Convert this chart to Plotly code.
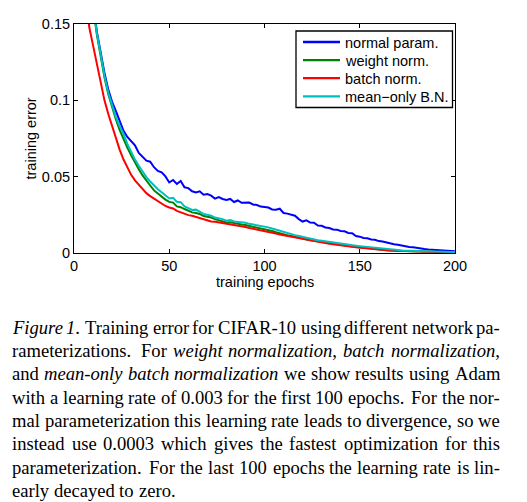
import plotly.graph_objects as go

# ---------------- data ----------------
epochs = list(range(0, 201, 2))

normal_param = [
    0.50, 0.36, 0.28, 0.225, 0.19, 0.164, 0.145, 0.131, 0.118, 0.107,
    0.099, 0.093, 0.086, 0.0800, 0.0760, 0.0730, 0.0705, 0.0655, 0.0630, 0.0605,
    0.0598, 0.0562, 0.0538, 0.0528, 0.0502, 0.0462, 0.0478, 0.0452, 0.0472, 0.0430,
    0.0425, 0.0404, 0.0396, 0.0404, 0.0382, 0.0386, 0.0376, 0.0356, 0.0366, 0.0354,
    0.0348, 0.0354, 0.0334, 0.0344, 0.0329, 0.0328, 0.0330, 0.0318, 0.0314, 0.0304,
    0.0301, 0.0298, 0.0285, 0.0284, 0.0290, 0.0262, 0.0258, 0.0252, 0.0244, 0.0222,
    0.0206, 0.0214, 0.0199, 0.0198, 0.0180, 0.0178, 0.0167, 0.0164, 0.0154, 0.0153,
    0.0144, 0.0142, 0.0131, 0.0130, 0.0111, 0.0107, 0.0098, 0.0096, 0.0088, 0.0087,
    0.0078, 0.0075, 0.0068, 0.0065, 0.0058, 0.0054, 0.0048, 0.0046, 0.0040, 0.0037,
    0.0032, 0.0029, 0.0026, 0.0023, 0.0021, 0.0019, 0.0017, 0.0016, 0.0014, 0.0013,
    0.0012,
]

weight_norm = [
    0.50, 0.355, 0.275, 0.222, 0.188, 0.162, 0.143, 0.128, 0.115, 0.104,
    0.0955, 0.0875, 0.0805, 0.0745, 0.0690, 0.0640, 0.0590, 0.0548, 0.0508, 0.0472,
    0.0442, 0.0410, 0.0388, 0.0368, 0.0350, 0.0335, 0.0330, 0.0305, 0.0300, 0.0288,
    0.0278, 0.0266, 0.0262, 0.0256, 0.0242, 0.0238, 0.0232, 0.0222, 0.0216, 0.0210,
    0.0200, 0.0201, 0.0195, 0.0190, 0.0187, 0.0183, 0.0178, 0.0173, 0.0168, 0.0164,
    0.0159, 0.0151, 0.0144, 0.0136, 0.0128, 0.0123, 0.0116, 0.0111, 0.0105, 0.0100,
    0.0095, 0.0088, 0.0084, 0.0080, 0.0076, 0.0072, 0.0068, 0.0064, 0.0060, 0.0056,
    0.0053, 0.0049, 0.0046, 0.0043, 0.0040, 0.0037, 0.0034, 0.0031, 0.0028, 0.0026,
    0.0023, 0.0021, 0.0019, 0.0017, 0.0015, 0.0014, 0.0012, 0.0011, 0.0010, 0.0009,
    0.0008, 0.0007, 0.0006, 0.0006, 0.0005, 0.0005, 0.0005, 0.0004, 0.0004, 0.0004,
    0.0004,
]

batch_norm = [
    0.45, 0.30, 0.22, 0.175, 0.148, 0.136, 0.124, 0.111, 0.100, 0.091,
    0.083, 0.0748, 0.0676, 0.0612, 0.0558, 0.0512, 0.0476, 0.0447, 0.0416, 0.0392,
    0.0373, 0.0356, 0.0336, 0.0322, 0.0308, 0.0298, 0.0292, 0.0276, 0.0266, 0.0260,
    0.0248, 0.0244, 0.0236, 0.0230, 0.0220, 0.0212, 0.0207, 0.0205, 0.0201, 0.0195,
    0.0190, 0.0189, 0.0183, 0.0178, 0.0175, 0.0170, 0.0164, 0.0159, 0.0153, 0.0150,
    0.0147, 0.0140, 0.0134, 0.0128, 0.0121, 0.0116, 0.0111, 0.0106, 0.0100, 0.0095,
    0.0091, 0.0086, 0.0081, 0.0077, 0.0073, 0.0069, 0.0065, 0.0061, 0.0057, 0.0053,
    0.0050, 0.0047, 0.0044, 0.0041, 0.0038, 0.0035, 0.0032, 0.0029, 0.0027, 0.0024,
    0.0022, 0.0020, 0.0018, 0.0016, 0.0015, 0.0013, 0.0012, 0.0011, 0.0010, 0.0009,
    0.0008, 0.0007, 0.0007, 0.0006, 0.0006, 0.0005, 0.0005, 0.0005, 0.0004, 0.0004,
    0.0004,
]

mean_only_bn = [
    0.50, 0.36, 0.28, 0.225, 0.19, 0.163, 0.144, 0.129, 0.116, 0.105,
    0.097, 0.089, 0.083, 0.078, 0.0715, 0.066, 0.0612, 0.0571, 0.0532, 0.0497,
    0.0468, 0.0440, 0.0418, 0.0398, 0.0378, 0.0357, 0.0362, 0.0335, 0.0333, 0.0305,
    0.0294, 0.0282, 0.0284, 0.0269, 0.0256, 0.0250, 0.0245, 0.0232, 0.0228, 0.0222,
    0.0212, 0.0216, 0.0206, 0.0204, 0.0200, 0.0198, 0.0191, 0.0187, 0.0183, 0.0178,
    0.0174, 0.0168, 0.0160, 0.0152, 0.0144, 0.0136, 0.0130, 0.0123, 0.0117, 0.0111,
    0.0105, 0.0099, 0.0093, 0.0089, 0.0084, 0.0080, 0.0076, 0.0072, 0.0068, 0.0064,
    0.0061, 0.0057, 0.0054, 0.0051, 0.0048, 0.0045, 0.0042, 0.0039, 0.0036, 0.0033,
    0.0030, 0.0027, 0.0025, 0.0023, 0.0021, 0.0019, 0.0017, 0.0016, 0.0014, 0.0013,
    0.0012, 0.0011, 0.0010, 0.0010, 0.0009, 0.0009, 0.0008, 0.0008, 0.0007, 0.0007,
    0.0007,
]

series_names = ["normal param.", "weight norm.", "batch norm.", "mean\u2212only B.N."]
series_colors = ["#0000FF", "#008000", "#FF0000", "#00BFBF"]

x_ticks = [0, 50, 100, 150, 200]
x_tick_labels = ["0", "50", "100", "150", "200"]
y_ticks = [0, 0.05, 0.1, 0.15]
y_tick_labels = ["0", "0.05", "0.1", "0.15"]

x_title = "training epochs"
y_title = "training error"

caption_lines = [
    "<i>Figure</i> <i>1</i>. Training error for CIFAR-10 using different network pa-",
    "rameterizations. For <i>weight</i> <i>normalization</i>, <i>batch</i> <i>normalization</i>,",
    "and <i>mean-only</i> <i>batch</i> <i>normalization</i> we show results using Adam",
    "with a learning rate of 0.003 for the first 100 epochs. For the nor-",
    "mal parameterization this learning rate leads to divergence, so we",
    "instead use 0.0003 which gives the fastest optimization for this",
    "parameterization. For the last 100 epochs the learning rate is lin-",
    "early decayed to zero.",
]

# ---------------- layout geometry ----------------
W, H = 527, 502
L, R, T, B = 74, 72, 24, 249
PW, PH = W - L - R, H - T - B

def px_x(px):
    return (px - L) / PW

def px_y(py):
    return (H - B - py) / PH

SANS = "Liberation Sans, Arial, sans-serif"
SERIF = "Liberation Serif, Times New Roman, serif"
AX_FS = 14.5

fig = go.Figure()
for name, vals, col in zip(series_names, [normal_param, weight_norm, batch_norm, mean_only_bn], series_colors):
    fig.add_trace(go.Scatter(x=epochs, y=vals, mode="lines", name=name,
                             line=dict(color=col, width=2), showlegend=False))

axis_common = dict(showline=True, linecolor="black", linewidth=1, mirror="ticks",
                   ticks="inside", ticklen=4, tickcolor="black", tickwidth=1,
                   showgrid=False, zeroline=False,
                   tickfont=dict(family=SANS, size=AX_FS, color="black"))

fig.update_xaxes(range=[0, 200], tickvals=x_ticks, ticktext=x_tick_labels, **axis_common)
fig.update_yaxes(range=[0, 0.15], tickvals=y_ticks, ticktext=y_tick_labels, **axis_common)

annotations = [
    dict(x=px_x(264.5), y=px_y(282), xref="paper", yref="paper", text=x_title,
         showarrow=False, xanchor="center", yanchor="middle",
         font=dict(family=SANS, size=AX_FS, color="black")),
    dict(x=px_x(30), y=px_y(138.5), xref="paper", yref="paper", text=y_title,
         showarrow=False, xanchor="center", yanchor="middle", textangle=-90,
         font=dict(family=SANS, size=AX_FS, color="black")),
]

# ---------------- legend (box, swatches, labels) ----------------
shapes = [dict(type="rect", xref="paper", yref="paper",
               x0=px_x(296), x1=px_x(452.5), y0=px_y(107.5), y1=px_y(31),
               line=dict(color="black", width=1.3), fillcolor="white", layer="above")]
LEG_ROW0, LEG_DY = 42, 18.1
for k, (name, col) in enumerate(zip(series_names, series_colors)):
    ry = LEG_ROW0 + LEG_DY * k
    shapes.append(dict(type="line", xref="paper", yref="paper",
                       x0=px_x(303), x1=px_x(340), y0=px_y(ry), y1=px_y(ry),
                       line=dict(color=col, width=2.3), layer="above"))
    annotations.append(dict(x=px_x(345), y=px_y(ry + 0.5), xref="paper", yref="paper",
                            text=name, showarrow=False, xanchor="left", yanchor="middle",
                            borderpad=0, borderwidth=0,
                            font=dict(family=SANS, size=AX_FS, color="black")))

# ---------------- caption (justified, Times metrics) ----------------
ROMAN = dict(zip("abcdefghijklmnopqrstuvwxyz",
                 [444, 500, 444, 500, 444, 333, 500, 500, 278, 278, 500, 278, 778,
                  500, 500, 500, 500, 333, 389, 278, 500, 500, 722, 500, 500, 444]))
ROMAN.update({"A": 722, "C": 667, "F": 556, "I": 333, "R": 667, "T": 611,
              ".": 250, ",": 250, "-": 333})
ROMAN.update({d: 500 for d in "0123456789"})
ITALIC = dict(zip("abcdefghijklmnopqrstuvwxyz",
                  [500, 500, 444, 500, 444, 278, 500, 500, 278, 278, 444, 278, 722,
                   500, 500, 500, 500, 389, 389, 278, 500, 444, 667, 444, 444, 389]))
ITALIC.update({"F": 611, "-": 333, ".": 250, ",": 250})
ITALIC.update({d: 500 for d in "0123456789"})

CAP_FS = 18.6
CAP_LEFT, CAP_RIGHT = 12, 500
CAP_Y0, CAP_DY = 327, 23.4

def word_width(w):
    total, it, i = 0, False, 0
    while i < len(w):
        if w.startswith("<i>", i):
            it = True; i += 3; continue
        if w.startswith("</i>", i):
            it = False; i += 4; continue
        total += (ITALIC if it else ROMAN).get(w[i], 500)
        i += 1
    return total * CAP_FS / 1000.0

for li, line in enumerate(caption_lines):
    words = line.split(" ")
    widths = [word_width(w) for w in words]
    py = CAP_Y0 + CAP_DY * li
    last = li == len(caption_lines) - 1
    if last:
        gaps = [0.25 * CAP_FS] * (len(words) - 1)
    else:
        weights = [1.5 if words[k].endswith(".") else 1.0 for k in range(len(words) - 1)]
        free = (CAP_RIGHT - CAP_LEFT) - sum(widths)
        unit = free / sum(weights)
        gaps = [unit * wt for wt in weights]
    xpos = CAP_LEFT
    for k, w in enumerate(words):
        annotations.append(dict(x=px_x(xpos), y=px_y(py), xref="paper", yref="paper",
                                text=w, showarrow=False, xanchor="left", yanchor="middle",
                                borderpad=0, borderwidth=0,
                                font=dict(family=SERIF, size=CAP_FS, color="black")))
        if k < len(gaps):
            xpos += widths[k] + gaps[k]

fig.update_layout(
    width=W, height=H, autosize=False,
    margin=dict(l=L, r=R, t=T, b=B, pad=0),
    paper_bgcolor="white", plot_bgcolor="white",
    font=dict(family=SANS, size=AX_FS, color="black"),
    showlegend=False,
    annotations=annotations,
    shapes=shapes,
)

fig.write_html("out.html", config={"displayModeBar": False},
               post_script="document.body.style.margin='0';document.body.style.overflow='hidden';")
